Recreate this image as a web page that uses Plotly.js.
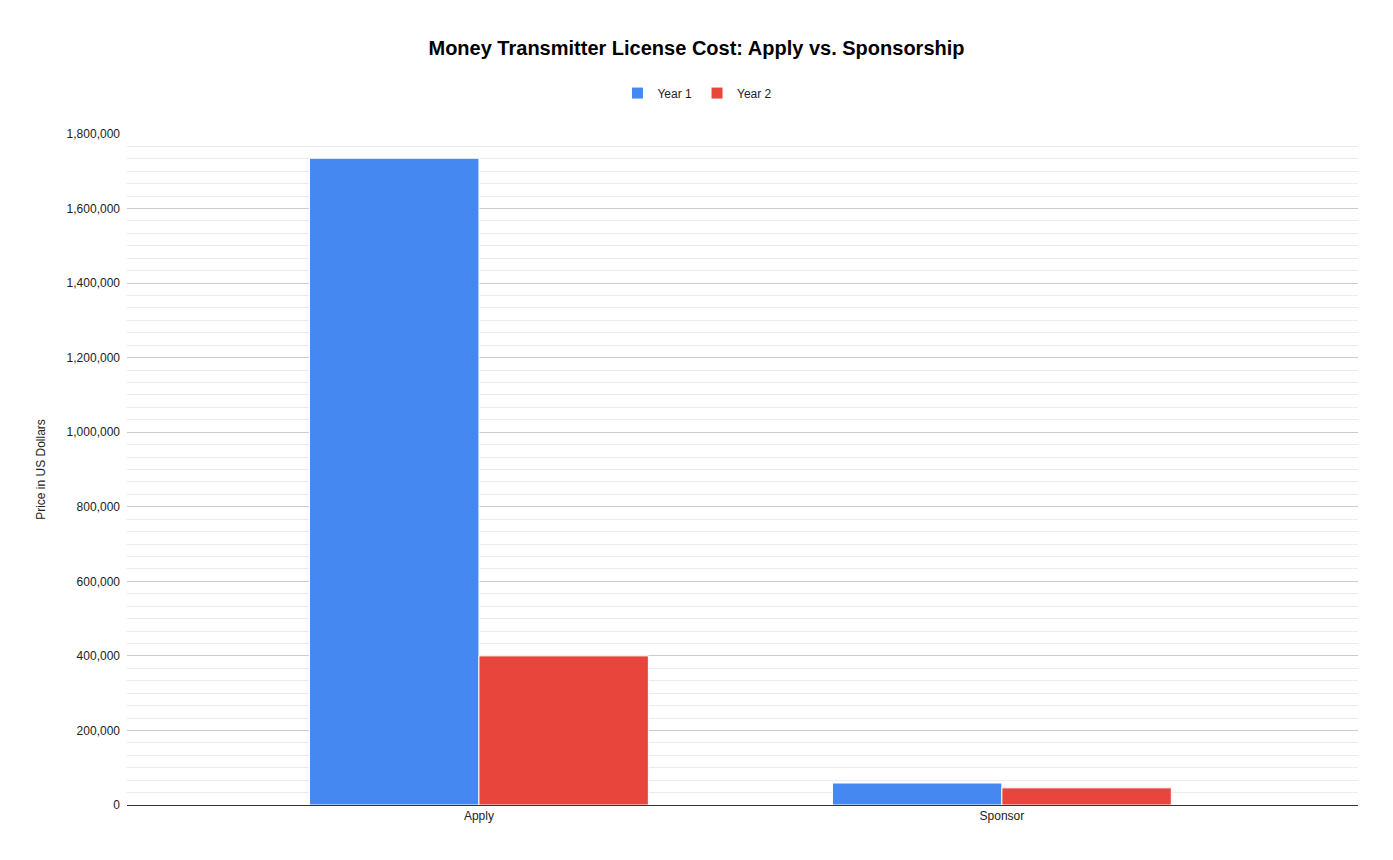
<!DOCTYPE html>
<html>
<head>
<meta charset="utf-8">
<script src="https://cdn.plot.ly/plotly-3.0.1.min.js"></script>
<style>
  html, body { margin: 0; padding: 0; background: #fff; }
  #chart { width: 1393px; height: 860px; }
</style>
</head>
<body>
<div id="chart"></div>
<script>
const categories = ['Apply', 'Sponsor'];
const year1 = [1735000, 59000];
const year2 = [400000, 46000];
const tickVals = [0, 200000, 400000, 600000, 800000, 1000000, 1200000, 1400000, 1600000, 1800000];

const font = 'Liberation Sans, Arial, sans-serif';

const plotData = [
  {
    type: 'bar',
    name: 'Year 1',
    x: categories,
    y: year1,
    marker: { color: '#4688f1', line: { color: '#ffffff', width: 1 } },
    hovertemplate: '%{x}<br>Year 1: %{y:,}<extra></extra>'
  },
  {
    type: 'bar',
    name: 'Year 2',
    x: categories,
    y: year2,
    marker: { color: '#e8453c', line: { color: '#ffffff', width: 1 } },
    hovertemplate: '%{x}<br>Year 2: %{y:,}<extra></extra>'
  }
];

const layout = {
  width: 1393,
  height: 860,
  paper_bgcolor: '#ffffff',
  plot_bgcolor: '#ffffff',
  font: { family: font, size: 12, color: '#222222' },
  title: {
    text: '<b>Money Transmitter License Cost: Apply vs. Sponsorship</b>',
    font: { family: font, size: 20, color: '#000000' },
    x: 0.5,
    xanchor: 'center',
    y: 0.944,
    yanchor: 'middle'
  },
  showlegend: true,
  legend: {
    orientation: 'h',
    x: 0.4634,
    xanchor: 'center',
    y: 1.061,
    yanchor: 'middle',
    font: { family: font, size: 12, color: '#222222' },
    itemwidth: 30
  },
  barmode: 'group',
  bargap: 0.352,
  bargroupgap: 0,
  margin: { l: 127, r: 35, t: 134, b: 55 },
  xaxis: {
    type: 'category',
    range: [-0.673, 1.681],
    showgrid: false,
    showline: true,
    linecolor: '#333333',
    linewidth: 1,
    ticks: '',
    tickfont: { family: font, size: 12, color: '#222222' },
    fixedrange: true
  },
  yaxis: {
    range: [0, 1800000],
    tickvals: tickVals,
    tickformat: ',d',
    ticks: '',
    ticklabelstandoff: 6,
    showline: false,
    zeroline: false,
    gridcolor: '#cccccc',
    gridwidth: 1,
    minor: {
      dtick: 200000 / 6,
      tick0: 0,
      showgrid: true,
      gridcolor: '#ebebeb',
      gridwidth: 1,
      ticks: ''
    },
    tickfont: { family: font, size: 12, color: '#222222' },
    title: {
      text: 'Price in US Dollars',
      font: { family: font, size: 12, color: '#222222' },
      standoff: 18
    },
    fixedrange: true
  }
};

const config = { responsive: false, displayModeBar: false };

Plotly.newPlot('chart', plotData, layout, config);
</script>
</body>
</html>
